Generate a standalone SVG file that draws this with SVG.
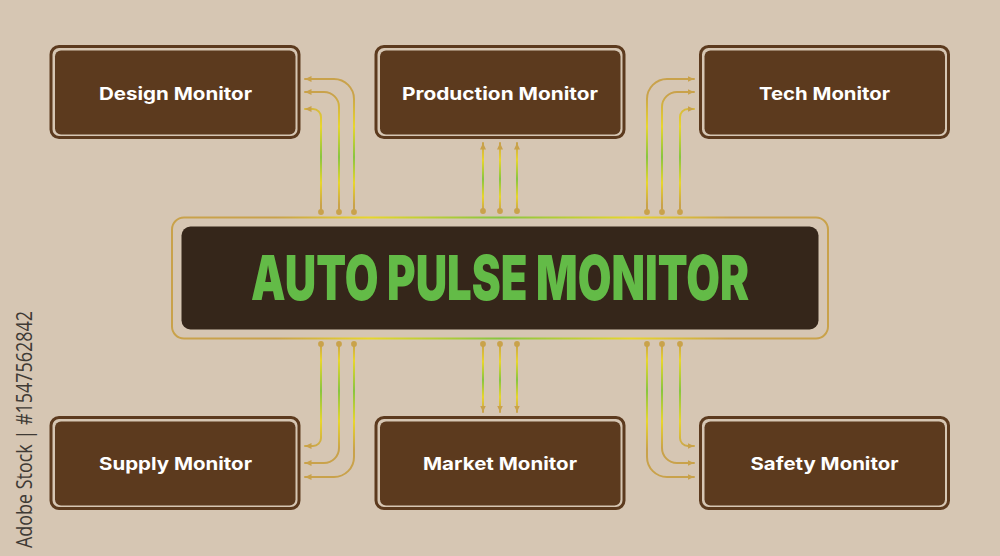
<svg xmlns="http://www.w3.org/2000/svg" width="1000" height="556" viewBox="0 0 1000 556">
  <defs>
    <style>
      .frame { fill: none; stroke: #5c3a1e; stroke-width: 3; }
      .card { fill: #5c3a1e; }
      .label { font-family: Inter, "Open Sans", "Liberation Sans", sans-serif; font-weight: 700; font-size: 17.5px; fill: #ffffff; text-anchor: middle; }
      .title { font-family: Inter, "Open Sans", "Liberation Sans", sans-serif; font-weight: 900; font-size: 62px; fill: #63bb47; text-anchor: middle; }
      .wire { fill: none; stroke-width: 2; stroke-linecap: round; }
      .wt { stroke: url(#gTop); }
      .wb { stroke: url(#gBot); }
      .wmt { stroke: url(#gMidT); }
      .wmb { stroke: url(#gMidB); }
      .stamp { font-family: "Open Sans", "Liberation Sans", sans-serif; font-weight: 500; font-size: 21px; fill: #3f3a35; }
    </style>
    <linearGradient id="gTop" gradientUnits="userSpaceOnUse" x1="0" y1="95" x2="0" y2="212">
      <stop offset="0" stop-color="#c9a24b"/>
      <stop offset="0.27" stop-color="#e8d62c"/>
      <stop offset="0.53" stop-color="#88c540"/>
      <stop offset="0.75" stop-color="#e8d62c"/>
      <stop offset="0.94" stop-color="#c9a24b"/>
      <stop offset="1" stop-color="#c9a24b"/>
    </linearGradient>
    <linearGradient id="gBot" gradientUnits="userSpaceOnUse" x1="0" y1="344" x2="0" y2="461">
      <stop offset="0" stop-color="#c9a24b"/>
      <stop offset="0.14" stop-color="#e8d62c"/>
      <stop offset="0.4" stop-color="#88c540"/>
      <stop offset="0.66" stop-color="#e8d62c"/>
      <stop offset="0.9" stop-color="#c9a24b"/>
      <stop offset="1" stop-color="#c9a24b"/>
    </linearGradient>
    <linearGradient id="gMidT" gradientUnits="userSpaceOnUse" x1="0" y1="143" x2="0" y2="211">
      <stop offset="0" stop-color="#c9a24b"/>
      <stop offset="0.25" stop-color="#e8d62c"/>
      <stop offset="0.53" stop-color="#88c540"/>
      <stop offset="0.79" stop-color="#e8d62c"/>
      <stop offset="1" stop-color="#c9a24b"/>
    </linearGradient>
    <linearGradient id="gMidB" gradientUnits="userSpaceOnUse" x1="0" y1="344" x2="0" y2="412">
      <stop offset="0" stop-color="#c9a24b"/>
      <stop offset="0.26" stop-color="#e8d62c"/>
      <stop offset="0.53" stop-color="#88c540"/>
      <stop offset="0.78" stop-color="#e8d62c"/>
      <stop offset="1" stop-color="#c9a24b"/>
    </linearGradient>
    <linearGradient id="gRing" gradientUnits="userSpaceOnUse" x1="171" y1="0" x2="829" y2="0">
      <stop offset="0" stop-color="#c9a24b"/>
      <stop offset="0.16" stop-color="#c9a24b"/>
      <stop offset="0.3" stop-color="#e8d62c"/>
      <stop offset="0.5" stop-color="#88c540"/>
      <stop offset="0.7" stop-color="#e8d62c"/>
      <stop offset="0.85" stop-color="#c9a24b"/>
      <stop offset="1" stop-color="#c9a24b"/>
    </linearGradient>
    <marker id="arrow" markerUnits="userSpaceOnUse" markerWidth="7" markerHeight="6" refX="6.5" refY="3" orient="auto">
      <path d="M0,0 L6.5,3 L0,6 z" fill="#c9a24b"/>
    </marker>
    <marker id="dot" markerUnits="userSpaceOnUse" markerWidth="7" markerHeight="7" refX="3.5" refY="3.5" orient="auto">
      <circle cx="3.5" cy="3.5" r="2.9" fill="#c9a24b"/>
    </marker>
  </defs>

  <rect x="0" y="0" width="1000" height="556" fill="#d6c6b3"/>

  <g id="connectors">
    <!-- Design Monitor -->
    <path class="wire wt" d="M354,212 V99 A20,20 0 0 0 334,79 H305" marker-start="url(#dot)" marker-end="url(#arrow)"/>
    <path class="wire wt" d="M339,212 V107 A15,15 0 0 0 324,92 H305" marker-start="url(#dot)" marker-end="url(#arrow)"/>
    <path class="wire wt" d="M321,212 V117 A8,8 0 0 0 313,109 H305" marker-start="url(#dot)" marker-end="url(#arrow)"/>
    <!-- Production Monitor -->
    <path class="wire wmt" d="M483,211 V143" marker-start="url(#dot)" marker-end="url(#arrow)"/>
    <path class="wire wmt" d="M500,211 V143" marker-start="url(#dot)" marker-end="url(#arrow)"/>
    <path class="wire wmt" d="M517,211 V143" marker-start="url(#dot)" marker-end="url(#arrow)"/>
    <!-- Tech Monitor -->
    <path class="wire wt" d="M647,212 V99 A20,20 0 0 1 667,79 H694" marker-start="url(#dot)" marker-end="url(#arrow)"/>
    <path class="wire wt" d="M662,212 V107 A15,15 0 0 1 677,92 H694" marker-start="url(#dot)" marker-end="url(#arrow)"/>
    <path class="wire wt" d="M680,212 V117 A8,8 0 0 1 688,109 H694" marker-start="url(#dot)" marker-end="url(#arrow)"/>
    <!-- Supply Monitor -->
    <path class="wire wb" d="M321,344 V438 A8,8 0 0 1 313,446 H305" marker-start="url(#dot)" marker-end="url(#arrow)"/>
    <path class="wire wb" d="M339,344 V448 A15,15 0 0 1 324,463 H305" marker-start="url(#dot)" marker-end="url(#arrow)"/>
    <path class="wire wb" d="M354,344 V457 A20,20 0 0 1 334,477 H305" marker-start="url(#dot)" marker-end="url(#arrow)"/>
    <!-- Market Monitor -->
    <path class="wire wmb" d="M483,344 V412" marker-start="url(#dot)" marker-end="url(#arrow)"/>
    <path class="wire wmb" d="M500,344 V412" marker-start="url(#dot)" marker-end="url(#arrow)"/>
    <path class="wire wmb" d="M517,344 V412" marker-start="url(#dot)" marker-end="url(#arrow)"/>
    <!-- Safety Monitor -->
    <path class="wire wb" d="M680,344 V438 A8,8 0 0 0 688,446 H694" marker-start="url(#dot)" marker-end="url(#arrow)"/>
    <path class="wire wb" d="M662,344 V448 A15,15 0 0 0 677,463 H694" marker-start="url(#dot)" marker-end="url(#arrow)"/>
    <path class="wire wb" d="M647,344 V457 A20,20 0 0 0 667,477 H694" marker-start="url(#dot)" marker-end="url(#arrow)"/>
  </g>

  <g id="auto-pulse-monitor">
    <rect x="172" y="217.5" width="656" height="121" rx="12" fill="none" stroke="url(#gRing)" stroke-width="2"/>
    <rect x="181.5" y="226.5" width="637" height="103" rx="9" fill="#35261a"/>
    <text class="title" x="500" y="300" textLength="498" lengthAdjust="spacingAndGlyphs">AUTO PULSE MONITOR</text>
  </g>

  <g id="design-monitor">
    <rect class="frame" x="51" y="46.5" width="248" height="91" rx="8"/>
    <rect class="card" x="55" y="50.5" width="240.5" height="84" rx="6"/>
    <text class="label" x="175.5" y="99.5" textLength="153" lengthAdjust="spacingAndGlyphs">Design Monitor</text>
  </g>

  <g id="production-monitor">
    <rect class="frame" x="376" y="46.5" width="248" height="91" rx="8"/>
    <rect class="card" x="380" y="50.5" width="240.5" height="84" rx="6"/>
    <text class="label" x="500" y="99.5" textLength="196" lengthAdjust="spacingAndGlyphs">Production Monitor</text>
  </g>

  <g id="tech-monitor">
    <rect class="frame" x="700.5" y="46.5" width="248" height="91" rx="8"/>
    <rect class="card" x="704.5" y="50.5" width="240.5" height="84" rx="6"/>
    <text class="label" x="824.5" y="99.5" textLength="131" lengthAdjust="spacingAndGlyphs">Tech Monitor</text>
  </g>

  <g id="supply-monitor">
    <rect class="frame" x="51" y="417.5" width="248" height="91" rx="8"/>
    <rect class="card" x="55" y="421.5" width="240.5" height="84" rx="6"/>
    <text class="label" x="175.5" y="470" textLength="153" lengthAdjust="spacingAndGlyphs">Supply Monitor</text>
  </g>

  <g id="market-monitor">
    <rect class="frame" x="376" y="417.5" width="248" height="91" rx="8"/>
    <rect class="card" x="380" y="421.5" width="240.5" height="84" rx="6"/>
    <text class="label" x="500" y="470" textLength="154" lengthAdjust="spacingAndGlyphs">Market Monitor</text>
  </g>

  <g id="safety-monitor">
    <rect class="frame" x="700.5" y="417.5" width="248" height="91" rx="8"/>
    <rect class="card" x="704.5" y="421.5" width="240.5" height="84" rx="6"/>
    <text class="label" x="824.5" y="470" textLength="148" lengthAdjust="spacingAndGlyphs">Safety Monitor</text>
  </g>

  <text class="stamp" transform="translate(31.5,548) rotate(-90)" textLength="237" lengthAdjust="spacingAndGlyphs">Adobe Stock | #1547562842</text>
</svg>
